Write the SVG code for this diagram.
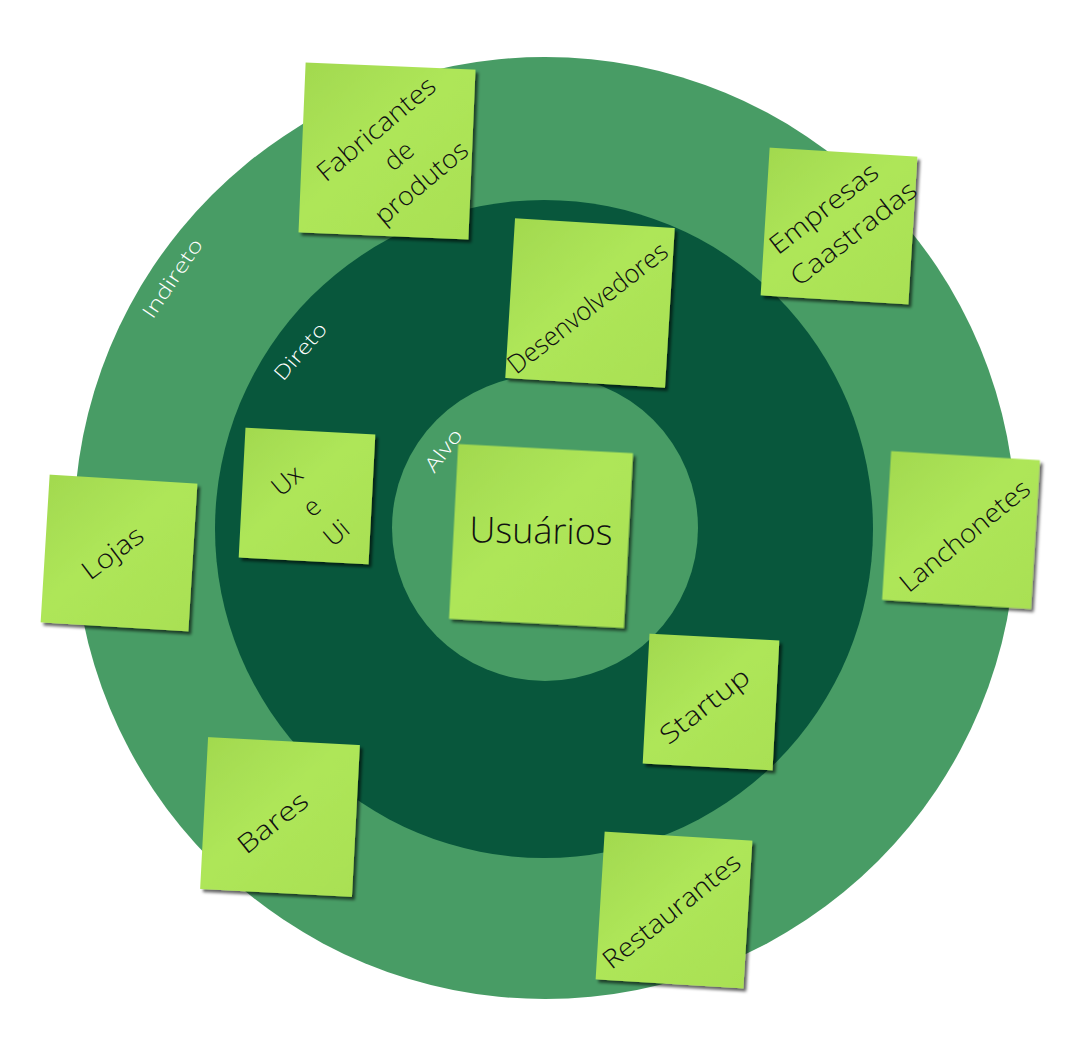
<svg xmlns="http://www.w3.org/2000/svg" width="1075" height="1037" viewBox="0 0 1075 1037">
<defs>
<linearGradient id="paper" x1="0" y1="0" x2="1" y2="1">
<stop offset="0" stop-color="#a2d94f"/>
<stop offset="0.45" stop-color="#aee659"/>
<stop offset="1" stop-color="#a9e053"/>
</linearGradient>
<filter id="sh" x="-10%" y="-10%" width="125%" height="125%">
<feDropShadow dx="3" dy="3" stdDeviation="1.8" flood-color="#000" flood-opacity="0.6"/>
</filter>
</defs>
<style>
.note{fill:url(#paper);filter:url(#sh);}
.t{font-family:"Open Sans","Liberation Sans",sans-serif;font-weight:300;fill:#111;text-anchor:middle;dominant-baseline:central;font-size:26px;}
.ring{font-family:"Open Sans","Liberation Sans",sans-serif;font-weight:300;fill:#ffffff;text-anchor:middle;dominant-baseline:central;font-size:20px;}
</style>
<rect width="1075" height="1037" fill="#ffffff"/>
<g id="rings">
<circle cx="545" cy="528" r="471" fill="#489c65"/>
<circle cx="544" cy="529" r="329" fill="#08573c"/>
<circle cx="545" cy="528" r="153" fill="#489c65"/>
<text class="ring" transform="translate(172,278) rotate(-56)" textLength="91" lengthAdjust="spacingAndGlyphs">Indireto</text>
<text class="ring" transform="translate(300,351) rotate(-49)" textLength="69" lengthAdjust="spacingAndGlyphs">Direto</text>
<text class="ring" transform="translate(443,450) rotate(-53)" textLength="48" lengthAdjust="spacingAndGlyphs">Alvo</text>
</g>
<g id="fabricantes">
<rect class="note" x="-85" y="-85" width="170" height="170" transform="translate(387,151) rotate(2.4)"/>
<g transform="translate(398,155) rotate(-40)">
<text class="t" x="0" y="-35" textLength="146" lengthAdjust="spacingAndGlyphs">Fabricantes</text>
<text class="t" x="0" y="0">de</text>
<text class="t" x="0" y="35" textLength="113" lengthAdjust="spacingAndGlyphs">produtos</text>
</g>
</g>
<g id="desenvolvedores">
<rect class="note" x="-80" y="-80" width="160" height="160" transform="translate(590,303) rotate(3.5)"/>
<text class="t" transform="translate(587,307) rotate(-38)" textLength="195" lengthAdjust="spacingAndGlyphs">Desenvolvedores</text>
</g>
<g id="empresas">
<rect class="note" x="-74" y="-74" width="148" height="148" transform="translate(839,226) rotate(3.5)"/>
<g transform="translate(838,220) rotate(-38)">
<text class="t" x="-4" y="-19" textLength="130" lengthAdjust="spacingAndGlyphs">Empresas</text>
<text class="t" x="4" y="19" textLength="152" lengthAdjust="spacingAndGlyphs">Caastradas</text>
</g>
</g>
<g id="uxui">
<rect class="note" x="-65" y="-65" width="130" height="130" transform="translate(307,496) rotate(3)"/>
<g transform="translate(311,506) rotate(-40)">
<text class="t" x="-2" y="-36">Ux</text>
<text class="t" x="0" y="0">e</text>
<text class="t" x="2" y="36">Ui</text>
</g>
</g>
<g id="usuarios">
<rect class="note" x="-87.5" y="-87.5" width="175" height="175" transform="translate(541,536) rotate(3)"/>
<text class="t" style="font-size:36px" transform="translate(541,530) rotate(1)" textLength="143" lengthAdjust="spacingAndGlyphs">Usuários</text>
</g>
<g id="lanchonetes">
<rect class="note" x="-74.5" y="-74.5" width="149" height="149" transform="translate(961,530) rotate(3.5)"/>
<text class="t" transform="translate(964,535) rotate(-39.5)" textLength="160" lengthAdjust="spacingAndGlyphs">Lanchonetes</text>
</g>
<g id="lojas">
<rect class="note" x="-74" y="-74" width="148" height="148" transform="translate(119,553) rotate(3.5)"/>
<text class="t" transform="translate(112,552) rotate(-37)" textLength="70" lengthAdjust="spacingAndGlyphs">Lojas</text>
</g>
<g id="startup">
<rect class="note" x="-65" y="-65" width="130" height="130" transform="translate(711,702) rotate(3)"/>
<text class="t" transform="translate(704,705) rotate(-38)" textLength="106" lengthAdjust="spacingAndGlyphs">Startup</text>
</g>
<g id="bares">
<rect class="note" x="-76" y="-76" width="152" height="152" transform="translate(280,817) rotate(3)"/>
<text class="t" transform="translate(272,822) rotate(-38.5)" textLength="82" lengthAdjust="spacingAndGlyphs">Bares</text>
</g>
<g id="restaurantes">
<rect class="note" x="-74" y="-74" width="148" height="148" transform="translate(674,910) rotate(3.5)"/>
<text class="t" transform="translate(671,910) rotate(-38.6)" textLength="168" lengthAdjust="spacingAndGlyphs">Restaurantes</text>
</g>
</svg>
